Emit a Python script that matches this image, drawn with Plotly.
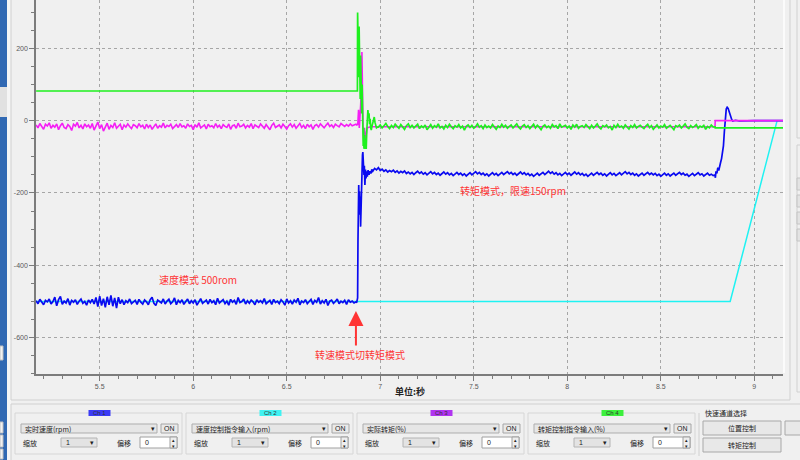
import numpy as np
import plotly.graph_objects as go

# ---------------- data ----------------
DT = 0.01
# Ch1 实时速度 (blue) - speed mode segment, sampled from 5.16 s
speed_a_t0 = 5.16
speed_a = [-498,-506,-494,-503,-509,-497,-501,-493,-507,-500,
           -488,-512,-495,-486,-508,-499,-504,-492,-510,-497,
           -502,-495,-508,-499,-493,-505,-500,-510,-496,-503,
           -494,-507,-489,-514,-485,-511,-492,-516,-487,-509,
           -483,-513,-490,-518,-488,-506,-495,-509,-498,-503,
           -493,-506,-500,-497,-508,-494,-502,-507,-496,-501,
           -509,-495,-488,-505,-511,-496,-500,-504,-493,-507,
           -499,-494,-506,-501,-490,-509,-497,-503,-495,-508,
           -500,-493,-506,-498,-504,-495,-510,-499,-492,-505,
           -501,-496,-507,-494,-503,-498,-509,-491,-504,-500,
           -495,-506,-499,-510,-494,-502,-497,-508,-489,-503,
           -500,-493,-507,-498,-505,-496,-501,-509,-495,-502,
           -498,-504,-492,-506,-500,-497,-508,-494,-503,-499,
           -506,-495,-501,-510,-493,-504,-498,-507,-496,-502,
           -491,-509,-499,-503,-495,-506,-500,-494,-508,-497,
           -502,-489,-507,-498,-504,-494,-511,-499,-496,-505,
           -500,-493,-506,-499,-503,-497,-508,-495,-502,-499,-504,-501]
speed_sw_t = [6.874,6.877,6.879,6.881,6.883,6.885,6.887,6.889,6.891,6.893,6.895,6.897,
              6.899,6.902,6.905,6.907,6.909,6.911,6.913,6.915,6.918,6.921,6.924,6.927,
              6.931,6.935,6.940,6.945,6.950,6.955,6.960]
speed_sw_v = [-503,-497,-490,-330,-220,-178,-240,-195,-260,-210,-293,-240,
              -170,-120,-95,-87,-120,-100,-150,-125,-178,-135,-160,-140,
              -155,-137,-150,-140,-146,-135,-140]
speed_b_t0 = 6.97
speed_b = [-132,-136,-130,-138,-134,-140,-136,-142,-138,-141,
           -137,-143,-139,-145,-140,-144,-139,-146,-142,-147,
           -143,-149,-144,-140,-146,-142,-148,-144,-150,-145,
           -141,-147,-143,-149,-145,-151,-146,-142,-148,-144,
           -150,-146,-152,-147,-143,-149,-145,-151,-147,-153,
           -148,-144,-150,-146,-141,-147,-143,-149,-145,-151,
           -147,-153,-148,-144,-150,-146,-152,-147,-143,-149,
           -145,-141,-147,-143,-149,-145,-151,-146,-142,-148,
           -144,-150,-146,-152,-148,-154,-149,-145,-151,-147,
           -143,-149,-145,-140,-146,-142,-148,-144,-150,-146,
           -152,-147,-143,-149,-145,-151,-146,-142,-148,-144,
           -150,-146,-152,-148,-154,-149,-145,-151,-147,-143,
           -149,-145,-151,-147,-153,-148,-144,-150,-146,-152,
           -148,-144,-150,-146,-141,-147,-143,-149,-145,-151,
           -147,-153,-149,-145,-151,-147,-143,-149,-145,-150,
           -146,-152,-148,-154,-149,-145,-151,-147,-153,-149,
           -145,-151,-147,-143,-149,-145,-151,-148,-154,-150,
           -146,-152,-148,-144,-150,-147,-153,-149,-145,-151,-148,-152]
speed_end_t = [8.790,8.792,8.795,8.800,8.805,8.810,8.815,8.820,8.825,8.830,8.835,8.840,
               8.845,8.850,8.855,8.860,8.865,8.870,8.875,8.880,8.885,8.890,8.900,8.920,
               8.950,9.000,9.155]
speed_end_v = [-150,-158,-140,-146,-130,-138,-120,-115,-105,-90,-70,-30,
               10,32,37,34,26,16,8,2,-1,0,1,-1,
               0,0,0]

# Ch2 速度控制指令输入 (cyan)
cmd_t = [5.16, 8.871, 9.122, 9.155]
cmd_v = [-500, -500, 0, 0]

# Ch3 实际转矩 (magenta)
torque_a_t0 = 5.16
torque_a = [-12,-20,-8,-17,-24,-10,-15,-6,-21,-13,
            -18,-9,-25,-14,-7,-19,-22,-11,-16,-27,
            -10,-15,-5,-20,-13,-23,-9,-17,-12,-21,
            -8,-26,-14,-4,-22,-11,-29,-16,-7,-24,
            -13,-19,-6,-21,-15,-10,-25,-12,-18,-9,
            -16,-22,-11,-14,-20,-8,-17,-13,-23,-10,
            -19,-12,-24,-15,-9,-21,-14,-18,-7,-20,
            -13,-16,-10,-22,-15,-11,-19,-8,-17,-14,
            -21,-9,-16,-13,-25,-11,-18,-6,-20,-15,
            -12,-23,-10,-17,-14,-20,-8,-18,-13,-22,
            -11,-16,-19,-9,-24,-14,-12,-21,-7,-17,
            -15,-10,-20,-13,-18,-8,-22,-12,-16,-19,
            -9,-14,-21,-11,-17,-25,-13,-7,-19,-15,
            -12,-20,-10,-16,-23,-14,-9,-18,-11,-21,
            -15,-8,-19,-13,-22,-10,-17,-12,-24,-14,
            -11,-18,-9,-15,-20,-13,-7,-16,-12,-19,
            -10,-14,-17,-8,-13,-16,-11,-15,-9,-14,-12,-10]
torque_sw_t = [6.875,6.878,6.880,6.884,6.888,6.895,6.900,6.902,6.904,6.908,6.912,6.916,
               6.920,6.925,6.930,6.940]
torque_sw_v = [-12,-12,-10,30,-20,40,100,190,60,-20,-60,-20,
               -55,-30,-20,-18]
torque_end_t = [6.950, 8.790, 8.791, 9.155]
torque_end_v = [-17, -17, 0, 0]

# Ch4 转矩控制指令输入 (green)
tcmd_a_t = [5.16, 6.878]
tcmd_a_v = [82, 82]
tcmd_sw_t = [6.879,6.881,6.883,6.885,6.887,6.889,6.891,6.893,6.895,6.897,6.899,6.901,
             6.903,6.905,6.907,6.909,6.911,6.913,6.916,6.919,6.922,6.925,6.928,6.931,
             6.934,6.937,6.940,6.943,6.946,6.949,6.952,6.956,6.960,6.964,6.968,6.972,
             6.976,6.980,6.985]
tcmd_sw_v = [299,200,290,120,260,90,220,60,180,40,150,20,
             100,-40,30,-70,-20,-78,-40,-78,-50,-78,-30,5,
             29,10,20,-10,5,-20,-26,-15,-5,8,10,-5,
             -15,-20,-18]
tcmd_b_t0 = 6.99
tcmd_b = [-18,-12,-20,-14,-8,-16,-22,-13,-19,-10,
          -15,-21,-11,-17,-24,-14,-9,-19,-13,-20,
          -16,-10,-22,-15,-19,-12,-25,-17,-11,-21,
          -14,-18,-9,-20,-16,-23,-13,-19,-10,-17,
          -22,-14,-18,-11,-20,-15,-26,-16,-12,-19,
          -13,-21,-17,-9,-18,-14,-22,-12,-19,-15,
          -20,-11,-17,-24,-15,-19,-10,-18,-13,-21,
          -16,-12,-20,-14,-9,-18,-23,-15,-11,-19,
          -14,-22,-17,-10,-20,-13,-18,-25,-16,-12,
          -19,-15,-21,-11,-17,-14,-22,-9,-18,-16,
          -13,-20,-15,-24,-12,-18,-10,-21,-16,-14,
          -19,-11,-17,-22,-13,-20,-15,-9,-18,-23,
          -14,-17,-12,-20,-16,-26,-13,-19,-10,-18,
          -15,-21,-12,-17,-23,-14,-19,-11,-20,-16,
          -13,-18,-22,-15,-10,-19,-14,-24,-17,-12,
          -20,-15,-18,-11,-21,-16,-13,-19,-25,-14,
          -17,-12,-20,-15,-9,-18,-22,-14,-19,-16,
          -11,-21,-15,-18,-13,-24,-16,-20,-12,-17]
tcmd_end_t = [8.790, 8.791, 9.155]
tcmd_end_v = [-17, -20, -20]

x_ticks = [5.5, 6, 6.5, 7, 7.5, 8, 8.5, 9]
x_ticktext = ["5.5", "6", "6.5", "7", "7.5", "8", "8.5", "9"]
y_ticks = [-600, -400, -200, 0, 200]
y_ticktext = ["-600", "-400", "-200", "0", "200"]

# ---------------- assemble series ----------------
def grid_t(t0, vals):
    return list(t0 + DT * np.arange(len(vals)))

speed_t = grid_t(speed_a_t0, speed_a) + speed_sw_t + grid_t(speed_b_t0, speed_b) + speed_end_t
speed_v = speed_a + speed_sw_v + speed_b + speed_end_v
torque_t = grid_t(torque_a_t0, torque_a) + torque_sw_t + torque_end_t
torque_v = torque_a + torque_sw_v + torque_end_v
tcmd_t = tcmd_a_t + tcmd_sw_t + grid_t(tcmd_b_t0, tcmd_b) + tcmd_end_t
tcmd_v = tcmd_a_v + tcmd_sw_v + tcmd_b + tcmd_end_v

fig = go.Figure()
fig.add_trace(go.Scatter(x=cmd_t, y=cmd_v, mode="lines", line=dict(color="#1ef2f2", width=1.5)))
fig.add_trace(go.Scatter(x=speed_t, y=speed_v, mode="lines", line=dict(color="#0a0af0", width=1.7)))
fig.add_trace(go.Scatter(x=torque_t, y=torque_v, mode="lines", line=dict(color="#f51ef5", width=1.6)))
fig.add_trace(go.Scatter(x=tcmd_t, y=tcmd_v, mode="lines", line=dict(color="#1ef01e", width=1.7)))

# ---------------- layout helpers (pixel -> paper) ----------------
W, H = 800, 460
L, R, T, B = 36, 783, 0, 374
def X(p): return (p - L) / (R - L)
def Y(p): return (B - p) / (B - T)

shapes, annos = [], []
CJK = "Noto Sans CJK SC"

def box(x0, y0, x1, y1, fill="rgba(0,0,0,0)", line="#c8c8c8", w=1):
    shapes.append(dict(type="rect", xref="paper", yref="paper", x0=X(x0), x1=X(x1),
                       y0=Y(y1), y1=Y(y0), fillcolor=fill,
                       line=dict(color=line, width=w), layer="above"))

def seg(x0, y0, x1, y1, color="#d0d0d0", w=1):
    shapes.append(dict(type="line", xref="paper", yref="paper", x0=X(x0), x1=X(x1),
                       y0=Y(y0), y1=Y(y1), line=dict(color=color, width=w), layer="above"))

def text(x, y, s, size=7, color="#222", xa="left", family=CJK):
    annos.append(dict(xref="paper", yref="paper", x=X(x), y=Y(y), text=s, showarrow=False,
                      xanchor=xa, yanchor="middle", font=dict(size=size, color=color, family=family)))

# left blue strip
box(0, -2, 7, 462, fill="#3169b3", line="#3169b3", w=0)
box(0, 87, 7, 117, fill="#e1e1e1", line="#e1e1e1", w=0)
box(7, -2, 11, 462, fill="#f5f5f5", line="#f5f5f5", w=0)
for (a, b_) in [(346, 360), (422, 433), (435, 447), (449, 459)]:
    box(0, a, 3, b_, fill="#f2f2f2", line="#c0c0c0", w=1)

# chart frame
seg(11, -2, 11, 400)
seg(11, 400, 790, 400)
seg(790, -2, 790, 400)
seg(784, 0, 784, 373, color="#ffffff", w=1.5)
# right side panels
box(797, -5, 812, 138, line="#d0d0d0")
box(797, 145, 812, 392, line="#d0d0d0")
for a in [178, 195, 212, 229]:
    box(797, a, 804, a + 12, fill="#e3e3e3", line="#c4c4c4")

# bottom control panel
box(11, 404, 812, 470, line="#d0d0d0")
groups = [(15, "Ch 1", "#3a3af5", "实时速度(rpm)"),
          (186, "Ch 2", "#3ff2f2", "速度控制指令输入(rpm)"),
          (357, "Ch 3", "#b034f0", "实际转矩(%)"),
          (528, "Ch 4", "#3cf03c", "转矩控制指令输入(%)")]
for gx, name, col, sel in groups:
    box(gx, 413, gx + 167, 454, line="#d6d6d6")
    cx = gx + 84.5
    box(cx - 11, 410, cx + 11, 416, fill=col, line=col, w=0)
    text(cx, 413, name, size=6, color="#333", xa="center", family="Liberation Sans")
    box(gx + 6, 424, gx + 142, 433, fill="#e6e6e6", line="#adadad")
    text(gx + 8, 428.5, sel, size=7)
    text(gx + 138, 428.5, "▾", size=7, xa="center", family="DejaVu Sans")
    box(gx + 146, 424, gx + 163, 433, fill="#e9e9e9", line="#a6a6a6")
    text(gx + 154.5, 428.5, "ON", size=7, xa="center", family="Liberation Sans")
    text(gx + 6, 443, "缩放", size=7)
    box(gx + 46, 438, gx + 82, 447, fill="#e3e3e3", line="#b4b4b4")
    text(gx + 49, 442.5, "1", size=7, family="Liberation Sans")
    text(gx + 77, 442.5, "▾", size=7, xa="center", family="DejaVu Sans")
    text(gx + 100, 443, "偏移", size=7)
    box(gx + 125, 437, gx + 162, 448, fill="#ffffff", line="#a0a0a0")
    box(gx + 155, 437, gx + 162, 448, fill="#eeeeee", line="#a0a0a0")
    text(gx + 128, 442.5, "0", size=7, family="Liberation Sans")
    text(gx + 158.5, 440, "▴", size=5, xa="center", family="DejaVu Sans")
    text(gx + 158.5, 445.5, "▾", size=5, xa="center", family="DejaVu Sans")

seg(699, 413, 699, 456)
text(703, 413, "快速通道选择", size=7)
box(703, 421, 781, 435, fill="#e8e8e8", line="#a8a8a8")
text(742, 428, "位置控制", size=7, xa="center")
box(785, 421, 806, 435, fill="#e8e8e8", line="#a8a8a8")
box(703, 438, 781, 452, fill="#e8e8e8", line="#a8a8a8")
text(742, 445, "转矩控制", size=7, xa="center")

# axis title
annos.append(dict(xref="paper", yref="paper", x=X(410), y=Y(391), text="<b>单位:秒</b>",
                  showarrow=False, xanchor="center", yanchor="middle",
                  font=dict(size=9, color="#222", family=CJK)))

# red notes
RED = "#ff3434"
def note(px_, py_, s):
    annos.append(dict(xref="paper", yref="paper", x=X(px_), y=Y(py_), text=s, showarrow=False,
                      xanchor="left", yanchor="middle", font=dict(size=10, color=RED, family=CJK)))
note(157, 279, "速度模式 500rom")
note(458, 190, "转矩模式，限速150rpm")
note(313, 354.5, "转速模式切转矩模式")
annos.append(dict(x=6.870, y=-526, xref="x", yref="y", text="", showarrow=True,
                  ax=0, ay=36, arrowhead=2, arrowsize=1.5, arrowwidth=2,
                  arrowcolor=RED, standoff=0))

tickfont = dict(size=7, color="#5a5a5a", family="Liberation Sans")
fig.update_layout(
    width=W, height=H, autosize=False,
    margin=dict(l=L, r=W - R, t=T, b=H - B, pad=0),
    paper_bgcolor="#f0f0f0", plot_bgcolor="#f0f0f0",
    showlegend=False,
    shapes=shapes, annotations=annos,
    xaxis=dict(range=[5.1594, 9.1535], tickmode="array", tickvals=x_ticks, ticktext=x_ticktext,
               showgrid=True, gridcolor="#a6a6a6", griddash="3px,3px", gridwidth=1,
               zeroline=False, showline=True, linecolor="#7c7c7c", linewidth=1.5,
               ticks="outside", ticklen=5, tickcolor="#7c7c7c", tickfont=tickfont,
               minor=dict(tickmode="linear", tick0=5.0, dtick=0.1, ticks="outside", ticklen=3,
                          tickcolor="#7c7c7c", showgrid=False)),
    yaxis=dict(range=[-700.4, 333.5], tickmode="array", tickvals=y_ticks, ticktext=y_ticktext,
               showgrid=True, gridcolor="#a6a6a6", griddash="3px,3px", gridwidth=1,
               zeroline=False, showline=True, linecolor="#7c7c7c", linewidth=1.5,
               ticks="outside", ticklen=5, tickcolor="#7c7c7c", tickfont=tickfont,
               minor=dict(tickmode="linear", tick0=0, dtick=50, ticks="outside", ticklen=3,
                          tickcolor="#7c7c7c", showgrid=False)),
)
# remove the browser's default 8px page margin so the figure sits at the window origin
fig.write_html("out.html", config={"displayModeBar": False},
               post_script="document.body.style.margin='0px';document.body.style.overflow='hidden';")
